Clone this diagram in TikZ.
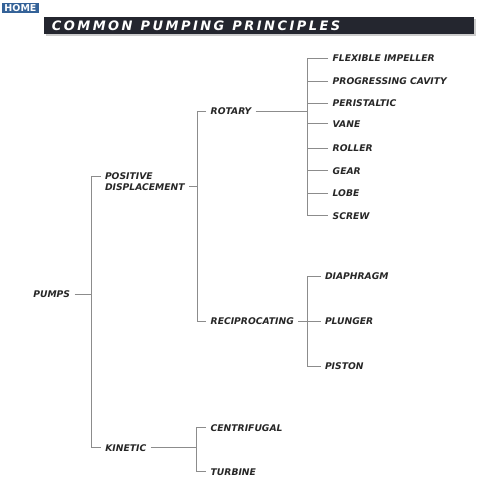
\documentclass[tikz,border=0pt]{standalone}
\usepackage{fontspec}
\setmainfont{DejaVu Sans}
\newfontfamily\titlefont[LetterSpace=19]{DejaVu Sans}
\newcommand\widespace{\spaceskip=8pt\relax}
\usetikzlibrary{shadows}
\definecolor{homeblue}{RGB}{52,98,152}
\definecolor{titlebg}{RGB}{36,38,47}
\definecolor{linegray}{RGB}{140,140,140}

\begin{document}
\begin{tikzpicture}[x=1pt, y=-1pt,
    lbl/.style={anchor=west, inner xsep=4.5pt, inner ysep=1pt, outer sep=0pt,
      font=\fontsize{9.2}{10}\selectfont\bfseries\itshape, text=black!85},
    branch/.style={draw=linegray, line width=0.8pt}]
    \useasboundingbox (0,0) rectangle (495,495);

    % 見出し
    \node[fill=homeblue, text=white, font=\fontsize{9.5}{10}\selectfont\bfseries,
      inner xsep=3pt, inner ysep=1.5pt, anchor=north west] (home) at (1.3,2.7) {HOME};
    \node[fill=titlebg, text=white, anchor=north west, minimum width=430pt,
      minimum height=16.7pt, inner xsep=8.4pt, inner ysep=0pt, text width=413.2pt,
      drop shadow={shadow xshift=2pt, shadow yshift=-2pt, fill=black!40},
      font=\titlefont\fontsize{13}{14}\selectfont\bfseries\itshape] (title) at (43.3,17.3)
      {\widespace COMMON PUMPING PRINCIPLES};

    % ノードの定義
    \node[lbl] (pumps) at (28.8,294.3) {PUMPS};
    \node[lbl] (pos) at (100.5,176.3) {POSITIVE};
    \node[lbl] (disp) at (100.5,186.7) {DISPLACEMENT};
    \node[lbl] (kin) at (100.8,447.7) {KINETIC};
    \node[lbl] (rot) at (206.2,111.5) {ROTARY};
    \node[lbl] (rec) at (206.2,321.5) {RECIPROCATING};
    \node[lbl] (cen) at (206.2,427.7) {CENTRIFUGAL};
    \node[lbl] (tur) at (206.2,471.8) {TURBINE};

    % 回転式
    \node[lbl] (flex) at (328.2,58.3) {FLEXIBLE IMPELLER};
    \node[lbl] (prog) at (328.2,81) {PROGRESSING CAVITY};
    \node[lbl] (peri) at (328.2,103) {PERISTALTIC};
    \node[lbl] (vane) at (328.2,123.7) {VANE};
    \node[lbl] (roll) at (328.2,148) {ROLLER};
    \node[lbl] (gear) at (328.2,170.7) {GEAR};
    \node[lbl] (lobe) at (328.2,193.3) {LOBE};
    \node[lbl] (scr) at (328.2,215.7) {SCREW};

    % 往復式
    \node[lbl] (dia) at (320.5,276) {DIAPHRAGM};
    \node[lbl] (plu) at (320.5,321.5) {PLUNGER};
    \node[lbl] (pis) at (320.5,366.5) {PISTON};

    % 分岐点
    \coordinate (j0) at (91.3,294.3);
    \coordinate (j1) at (197.5,186.7);
    \coordinate (j2) at (307.5,111.5);
    \coordinate (j3) at (307.5,321.5);
    \coordinate (j4) at (196.8,447.7);

    % エッジの定義
    \draw[branch] (pumps.east) -- (j0);
    \draw[branch] (pos.west) -| (j0) |- (kin.west);
    \draw[branch] (disp.east) -- (j1);
    \draw[branch] (rot.west) -| (j1) |- (rec.west);
    \draw[branch] (rot.east) -- (j2);
    \draw[branch] (flex.west) -| (j2) |- (scr.west);
    \draw[branch] (prog.west) -- (prog.west -| j2);
    \draw[branch] (peri.west) -- (peri.west -| j2);
    \draw[branch] (vane.west) -- (vane.west -| j2);
    \draw[branch] (roll.west) -- (roll.west -| j2);
    \draw[branch] (gear.west) -- (gear.west -| j2);
    \draw[branch] (lobe.west) -- (lobe.west -| j2);
    \draw[branch] (rec.east) -- (j3);
    \draw[branch] (dia.west) -| (j3) |- (pis.west);
    \draw[branch] (plu.west) -- (j3);
    \draw[branch] (kin.east) -- (j4);
    \draw[branch] (cen.west) -| (j4) |- (tur.west);
\end{tikzpicture}
\end{document}
